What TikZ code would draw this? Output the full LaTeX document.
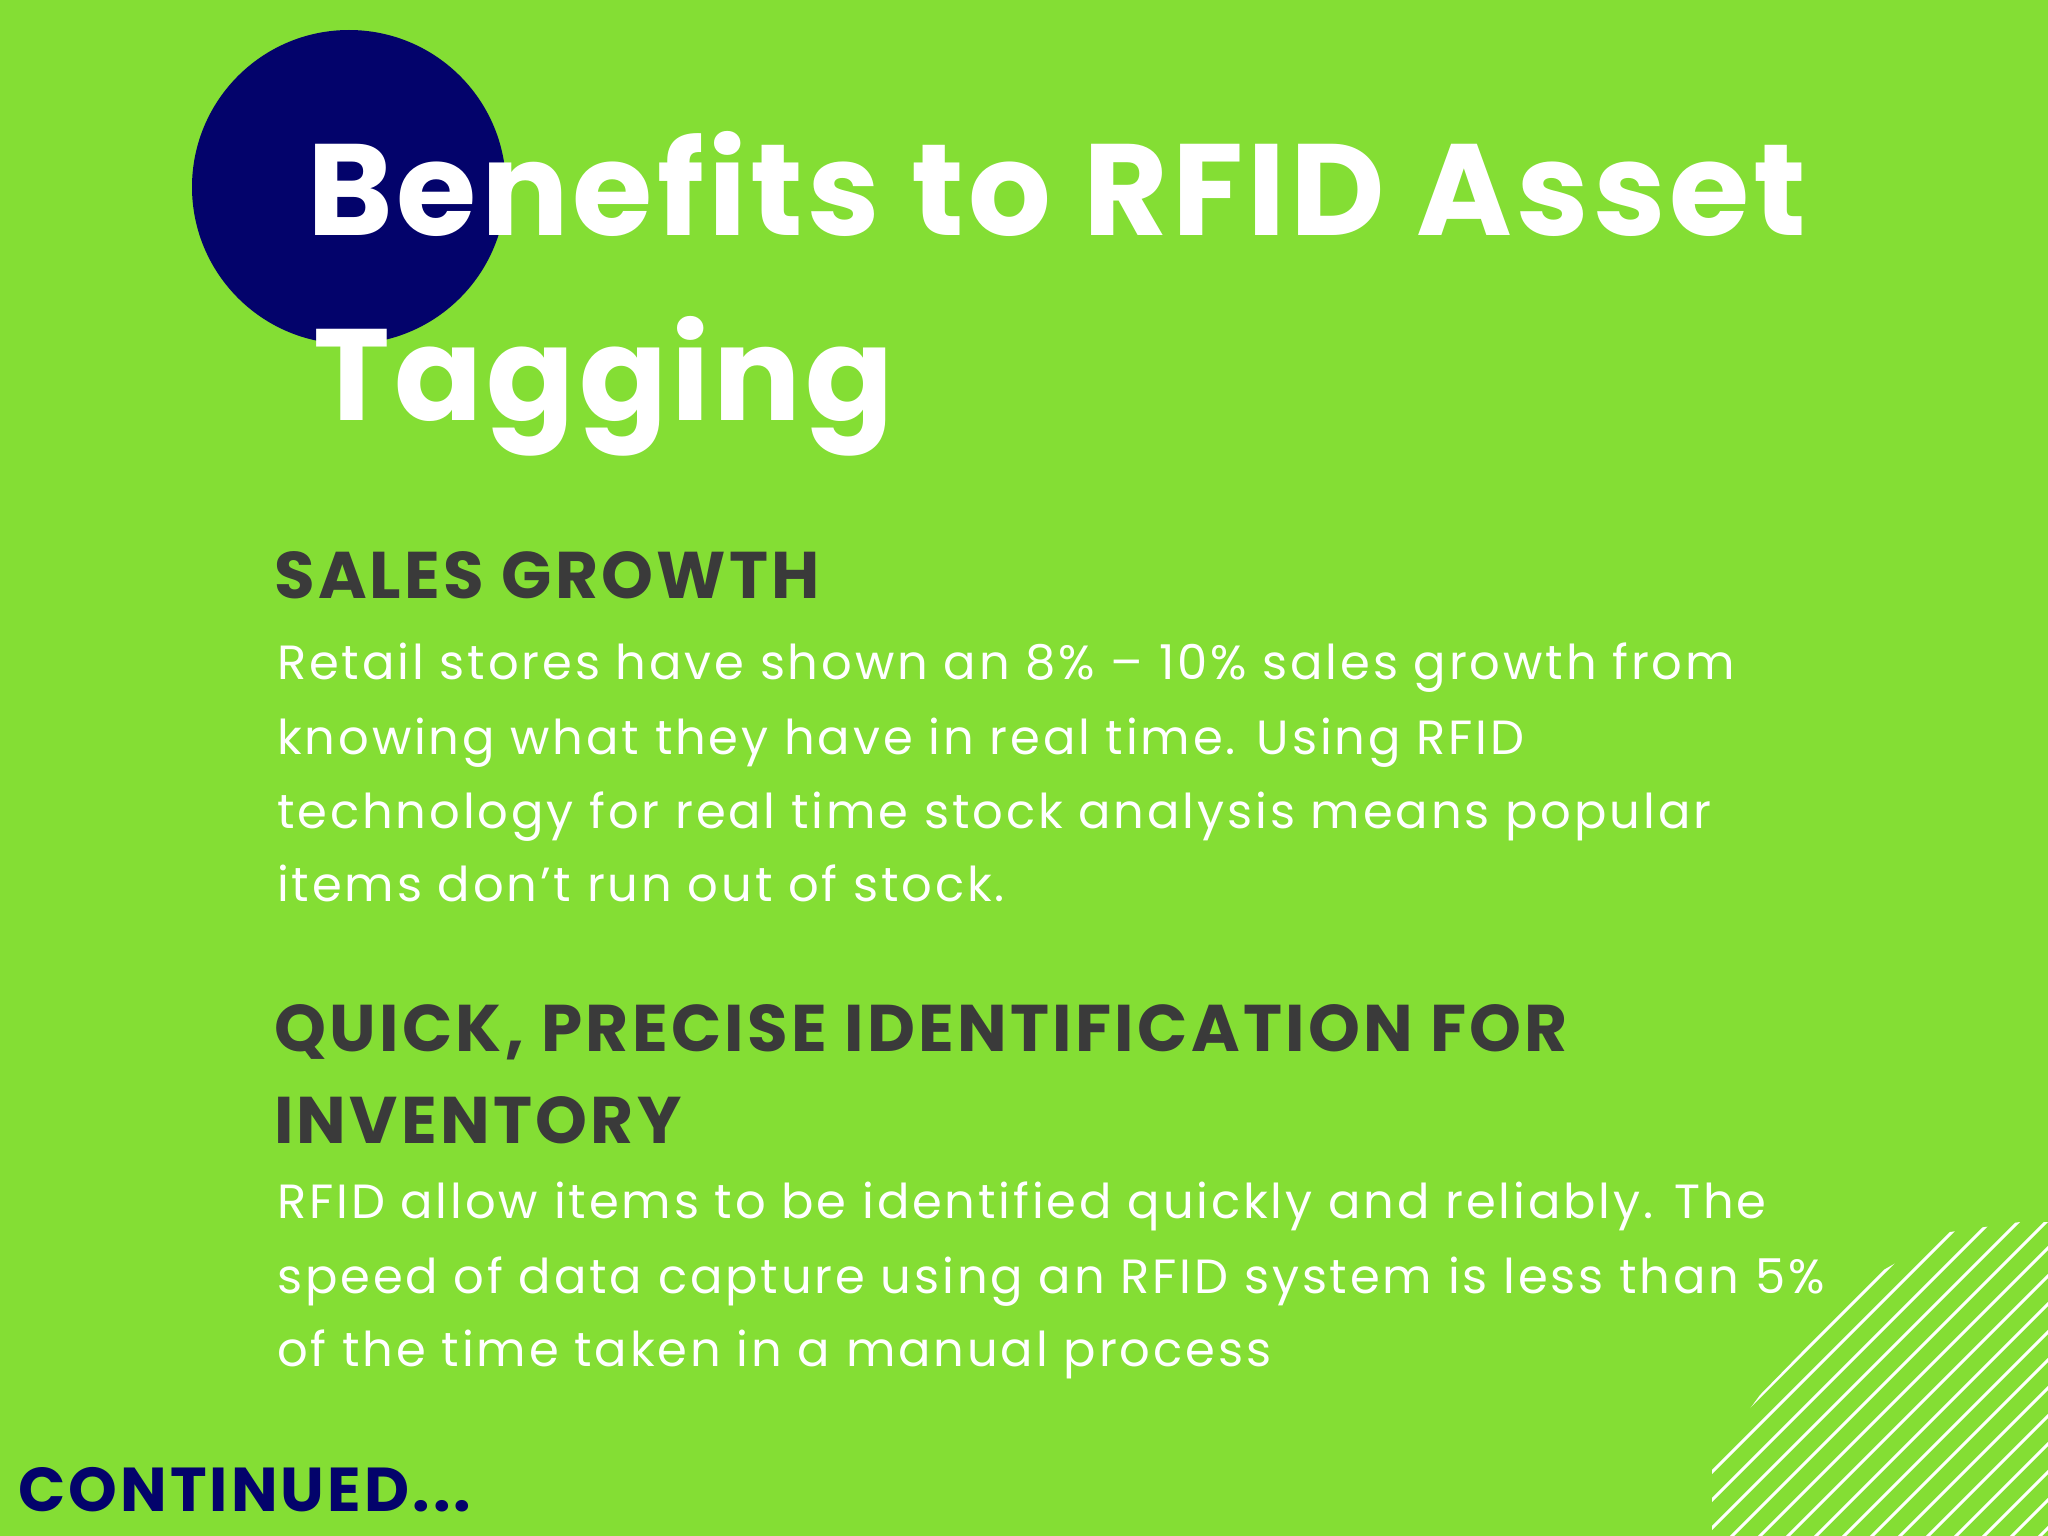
\documentclass[tikz,border=0pt]{standalone}
\usepackage{fontspec}
\setmainfont{Poppins}
\definecolor{bg}{HTML}{84DE34}
\definecolor{navy}{HTML}{03036B}
\definecolor{dark}{HTML}{3A3A3A}
\tikzset{
  title/.style={anchor=base west,inner sep=0,text=white,font=\fontsize{130}{130}\selectfont\bfseries\addfontfeature{LetterSpace=3.2}},
  head/.style={anchor=base west,inner sep=0,text=dark,font=\fontsize{66}{66}\selectfont\bfseries\addfontfeature{LetterSpace=5}},
  body/.style={anchor=base west,inner sep=0,text=white,font=\fontsize{48}{48}\selectfont\addfontfeature{LetterSpace=6}},
  stripe/.style={white,line width=3pt}
}
\begin{document}
\begin{tikzpicture}[x=1pt,y=-1pt]
\fill[bg] (0,0) rectangle (2048,1536);
\useasboundingbox (0,0) rectangle (2048,1536);
\fill[navy] (349,187) circle (157);
\node[title] (t1) at (307,235) {Benefits to RFID Asset};
\node[title] (t2) at (313,420) {Tagging};
\node[head] (h1) at (274,598) {SALES GROWTH};
\node[body] (b1) at (277,679) {Retail stores have shown an 8\% – 10\% sales growth from};
\node[body] (b2) at (277,754) {knowing what they have in real time. Using RFID};
\node[body] (b3) at (277,828) {technology for real time stock analysis means popular};
\node[body] (b4) at (277,901) {items don’t run out of stock.};
\node[head] (h2) at (274,1051) {QUICK, PRECISE IDENTIFICATION FOR};
\node[head] (h3) at (274,1143) {INVENTORY};
\node[body] (c1) at (277,1218) {RFID allow items to be identified quickly and reliably. The};
\node[body] (c2) at (277,1293) {speed of data capture using an RFID system is less than 5\%};
\node[body] (c3) at (277,1366) {of the time taken in a manual process};
\node[anchor=base west,inner sep=0,text=navy,font=\fontsize{62}{62}\selectfont\bfseries\addfontfeature{LetterSpace=5}] (cont) at (18,1511) {CONTINUED...};
\begin{scope}
\clip (1712,1536) -- (1712,1460) -- (1760,1395) -- (1880,1272) -- (1950,1232) -- (2020,1222) -- (2048,1222) -- (2048,1536) -- cycle;
\foreach \c in {3100,3128,...,3600} {\draw[stripe] (\c-1536-300,1536+300) -- (\c-1000+300,1000-300);}
\end{scope}
\end{tikzpicture}
\end{document}
